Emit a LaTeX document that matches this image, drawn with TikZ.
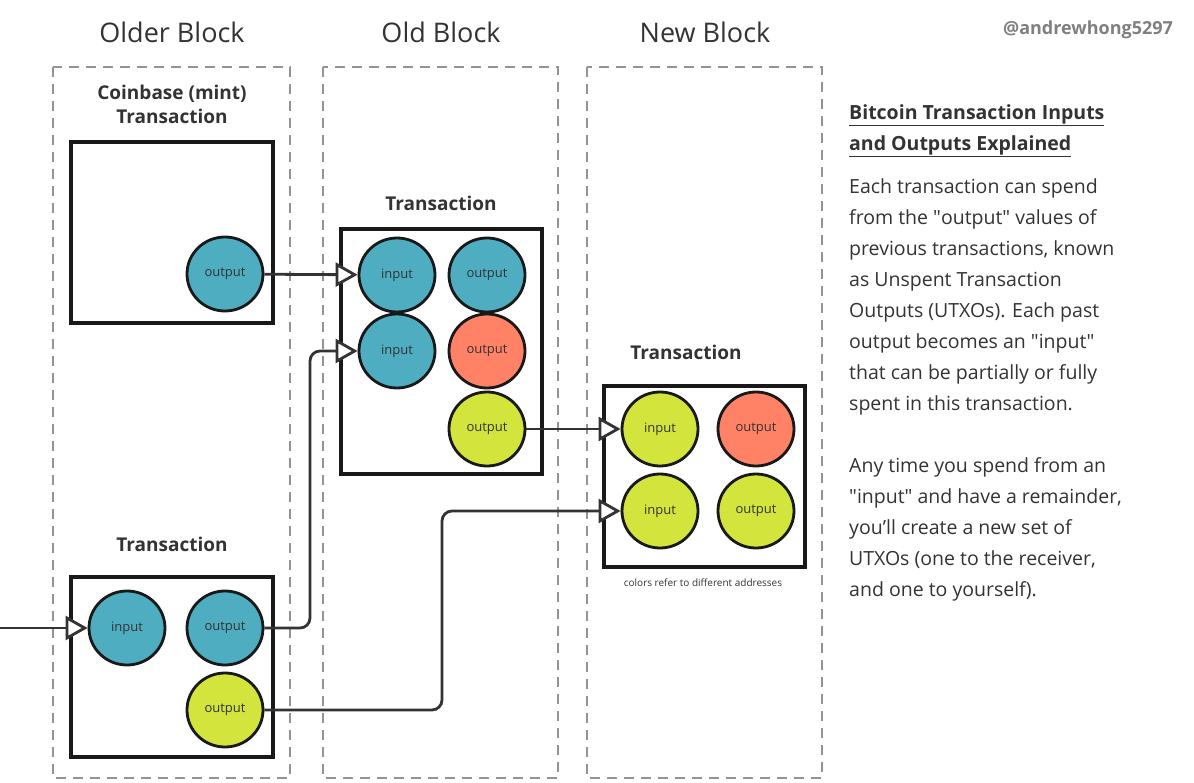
\documentclass[tikz,border=0pt]{standalone}
\usepackage{fontspec}
\setmainfont{Open Sans}
\usetikzlibrary{arrows.meta,shapes.geometric}
\definecolor{teal}{HTML}{4FADC2}
\definecolor{red}{HTML}{FF8266}
\definecolor{lime}{HTML}{D3E53C}
\definecolor{txt}{HTML}{333333}
\newcommand{\q}{\textquotedbl}
\begin{document}
\begin{tikzpicture}[x=1pt,y=-1pt,
  col/.style={draw=gray!85,line width=2.8pt,dash pattern=on 10pt off 7pt},
  tx/.style={draw=black!90,line width=3.2pt},
  c/.style={ellipse,draw=black!90,line width=2.8pt,minimum width=76pt,minimum height=74pt,font=\fontsize{13}{13}\selectfont,text=txt,inner sep=0pt},
  ttl/.style={font=\fontsize{27}{30}\selectfont,text=txt},
  lbl/.style={font=\fontsize{19}{24}\selectfont\bfseries,text=txt,align=center},
  ar/.style={draw=black!80,line width=2.8pt,rounded corners=10pt,-{Triangle[open,fill=white,length=22pt,width=24pt,line width=2.8pt]}}]
\useasboundingbox (0,0) rectangle (1194,783);
\fill[white] (0,0) rectangle (1194,783);
\draw[col] (53,67) rectangle (290,778);
\draw[col] (323,67) rectangle (558,778);
\draw[col] (587,67) rectangle (822,778);
\node[ttl] (t1) at (172,32) {Older Block};
\node[ttl] (t2) at (441,32) {Old Block};
\node[ttl] (t3) at (705,32) {New Block};
\node[font=\fontsize{18}{20}\selectfont\bfseries,text=gray] (at) at (1088,30) {@andrewhong5297};
% coinbase
\node[lbl] (l1) at (172,104) {Coinbase (mint)\\Transaction};
\draw[tx] (71,142) rectangle (273,323);
\node[c,fill=teal] (co) at (225,274) {output};
% old
\node[lbl] (l2) at (441,203) {Transaction};
\draw[tx] (341,229) rectangle (542,474);
\node[c,fill=teal] (oi1) at (397,275) {input};
\node[c,fill=teal] (oo1) at (487,275) {output};
\node[c,fill=teal] (oi2) at (397,351) {input};
\node[c,fill=red] (oo2) at (487,351) {output};
\node[c,fill=lime] (oo3) at (487,429) {output};
% new
\node[lbl] (l3) at (686,352) {Transaction};
\draw[tx] (604,386) rectangle (805,567);
\node[c,fill=lime] (ni1) at (660,429) {input};
\node[c,fill=red] (no1) at (756,429) {output};
\node[c,fill=lime] (ni2) at (660,511) {input};
\node[c,fill=lime] (no2) at (756,511) {output};
\node[font=\fontsize{10}{10}\selectfont,text=txt] (cap) at (703,583) {colors refer to different addresses};
% bottom
\node[lbl] (l4) at (172,544) {Transaction};
\draw[tx] (71,577) rectangle (273,757);
\node[c,fill=teal] (bi) at (127,628) {input};
\node[c,fill=teal] (bo1) at (225,628) {output};
\node[c,fill=lime] (bo2) at (225,710) {output};
\coordinate (src) at (0,628);
% arrows
\draw[ar] (src) -- (bi);
\draw[ar] (co) -- (oi1);
\draw[ar] (bo1.east) -- (310,628) -- (310,351) -- (oi2.west);
\draw[ar] (oo3) -- (ni1);
\draw[ar] (bo2.east) -- (442,710) -- (442,511) -- (ni2.west);
% text
\node[anchor=north west,align=left,inner sep=0pt,font=\fontsize{19.5}{31}\selectfont,text=txt] (h) at (849,104)
 {\textbf{\underline{Bitcoin Transaction Inputs}}\\\textbf{\underline{and Outputs Explained}}};
\node[anchor=north west,align=left,inner sep=0pt,font=\fontsize{19.5}{31}\selectfont,text=txt] (p) at (849,178)
 {Each transaction can spend\\from the \q output\q{} values of\\previous transactions, known\\as Unspent Transaction\\Outputs (UTXOs). Each past\\output becomes an \q input\q\\that can be partially or fully\\spent in this transaction.\\[31pt]Any time you spend from an\\\q input\q{} and have a remainder,\\you'll create a new set of\\UTXOs (one to the receiver,\\and one to yourself).};
\end{tikzpicture}
\end{document}
